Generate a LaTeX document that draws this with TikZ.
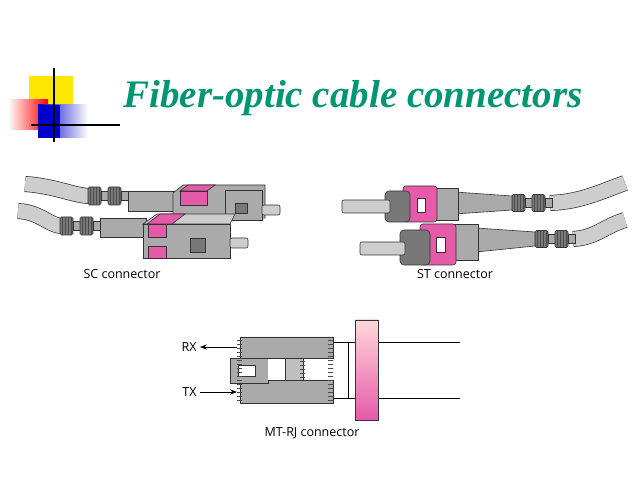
\documentclass[tikz,border=0pt]{standalone}
\usepackage{fontspec}
\setmainfont{Liberation Serif}
\newfontfamily\labelfont{Open Sans}
\usetikzlibrary{positioning,arrows.meta}
\definecolor{titlegreen}{RGB}{0,150,115}
\definecolor{cablegray}{RGB}{205,205,205}
\definecolor{bodygray}{RGB}{170,170,170}
\definecolor{darkgray}{RGB}{120,120,120}
\definecolor{pinkband}{RGB}{230,90,170}
\tikzset{
  part/.style={draw=black!80, line width=0.6pt, fill=#1},
  cable/.style={line width=16pt, draw=black!80, line cap=butt},
  cablecore/.style={line width=14.6pt, draw=cablegray, line cap=butt},
  ring/.style={part=darkgray, rounded corners=1.5pt},
  caption/.style={font=\labelfont\fontsize{12.5}{14}\selectfont},
  sig/.style={-{Stealth[length=7pt]}, line width=0.8pt}
}
\newcommand\rings[3]{% x, y, height
  \foreach \k in {0,1} {
    \draw[ring] (#1+\k*20,#2-#3/2) rectangle ++(13,#3);
    \foreach \j in {2,5,8,11} \draw[black!70] (#1+\k*20+\j,#2-#3/2) -- ++(0,#3);
    \draw[part=bodygray] (#1+\k*20+13,#2-#3/4) rectangle ++(7,#3/2);
  }}
\begin{document}
\begin{tikzpicture}[x=1pt,y=-1pt]
  \useasboundingbox (0,0) rectangle (638,478);
  % logo
  \fill[yellow!90!orange] (29,76) rectangle (73,105);
  \shade[left color=white, right color=red] (8,100) rectangle (48,130);
  \shade[left color=blue!80!black, right color=white] (38,105) rectangle (88,138);
  \fill[blue!80!black] (38,105) rectangle (60,138);
  \draw[line width=1.5pt] (54,68) -- (54,142);
  \draw[line width=1.5pt] (31,125) -- (120,125);
  \node (title) at (353,98) {\fontsize{39}{44}\selectfont\bfseries\itshape\color{titlegreen}Fiber-optic cable connectors};

  % SC connector, upper
  \draw[cable] (25,184) .. controls (55,186) and (75,196) .. (90,196);
  \draw[cablecore] (25,184) .. controls (55,186) and (75,196) .. (90,196);
  \rings{88}{196}{18}
  \draw[part=bodygray] (128,191) rectangle (176,211);
  \draw[part=bodygray] (173,193) -- (183,185) -- (265,185) -- (265,218) -- (173,225) -- cycle;
  \draw[part=pinkband] (180,191) -- (188,185) -- (215,185) -- (207,191) -- cycle;
  \draw[part=pinkband] (180,191) rectangle (207,205);
  \draw[part=bodygray] (225,190) rectangle (262,220);
  \draw[part=darkgray] (235,203) rectangle (247,213);
  \draw[part=cablegray, rounded corners=2pt] (262,205) rectangle (280,215);
  % SC connector, lower
  \draw[cable] (18,211) .. controls (40,212) and (50,226) .. (62,226);
  \draw[cablecore] (18,211) .. controls (40,212) and (50,226) .. (62,226);
  \rings{60}{226}{18}
  \draw[part=bodygray] (100,218) rectangle (146,237);
  \draw[part=cablegray] (143,224) -- (157,214) -- (235,214) -- (230,224) -- cycle;
  \draw[part=bodygray] (143,224) rectangle (230,258);
  \draw[part=pinkband] (147,224) -- (160,214) -- (185,214) -- (172,224) -- cycle;
  \draw[part=pinkband] (148,224) rectangle (166,237);
  \draw[part=pinkband] (148,246) rectangle (166,258);
  \draw[part=darkgray] (190,238) rectangle (205,252);
  \draw[part=cablegray, rounded corners=2pt] (230,238) rectangle (248,248);
  \node[caption] (sc) at (122,274) {SC connector};

  % ST connector, upper
  \draw[cable] (550,203) .. controls (580,202) and (600,192) .. (625,183);
  \draw[cablecore] (550,203) .. controls (580,202) and (600,192) .. (625,183);
  \rings{512}{203}{17}
  \draw[part=bodygray] (455,192) -- (512,196) -- (512,210) -- (455,214) -- cycle;
  \draw[part=bodygray] (433,188) rectangle (458,220);
  \draw[part=pinkband, rounded corners=3pt] (403,186) rectangle (437,222);
  \draw[part=darkgray, rounded corners=4pt] (385,191) rectangle (410,222);
  \draw[part=cablegray, rounded corners=2pt] (342,200) rectangle (390,213);
  \draw[part=white] (417,198) rectangle (425,212);
  % ST connector, lower
  \draw[cable] (573,239) .. controls (595,238) and (605,226) .. (625,220);
  \draw[cablecore] (573,239) .. controls (595,238) and (605,226) .. (625,220);
  \rings{535}{239}{17}
  \draw[part=bodygray] (476,228) -- (535,232) -- (535,246) -- (476,252) -- cycle;
  \draw[part=bodygray] (452,224) rectangle (478,260);
  \draw[part=pinkband, rounded corners=3pt] (420,224) rectangle (456,265);
  \draw[part=darkgray, rounded corners=4pt] (400,230) rectangle (430,265);
  \draw[part=cablegray, rounded corners=2pt] (360,242) rectangle (405,255);
  \draw[part=white] (436,237) rectangle (445,252);
  \node[caption] (st) at (455,274) {ST connector};

  % MT-RJ connector
  \draw[part=bodygray] (240,337) -- (333,337) -- (333,358) -- (303,358) -- (303,380)
        -- (333,380) -- (333,403) -- (240,403) -- cycle;
  \draw[part=bodygray] (230,358) rectangle (268,383);
  \draw[part=white] (238,365) rectangle (255,376);
  \draw[part=black!25] (285,358) rectangle (303,380);
  \fill[white] (268,358.4) rectangle (285,379.6);
  \draw[black!80, line width=0.6pt] (268,358) -- (285,358) -- (285,380) -- (268,380);
  \foreach \y in {340,344,...,400} {
    \draw[black!70] (237,\y) -- (242,\y);
    \draw[black!70] (328,\y) -- (333,\y);
  }
  \foreach \y in {361,365,...,377} \draw[black!70] (300,\y) -- (305,\y);
  \draw[line width=0.8pt] (333,342) -- (460,342);
  \draw[line width=0.8pt] (333,398) -- (460,398);
  \draw[line width=0.8pt] (348,342) -- (348,398);
  \shade[top color=pink!60, bottom color=pinkband, draw=black!80] (355,320) rectangle (378,420);
  \coordinate (rxend) at (237,347);
  \coordinate (txend) at (237,392);
  \node[caption, anchor=east] (rx) at (200,347) {RX};
  \node[caption, anchor=east] (tx) at (200,392) {TX};
  \draw[sig] (rxend) -- (rx);
  \draw[sig] (tx) -- (txend);
  \node[caption] (mtrj) at (312,433) {MT-RJ connector};
\end{tikzpicture}
\end{document}
